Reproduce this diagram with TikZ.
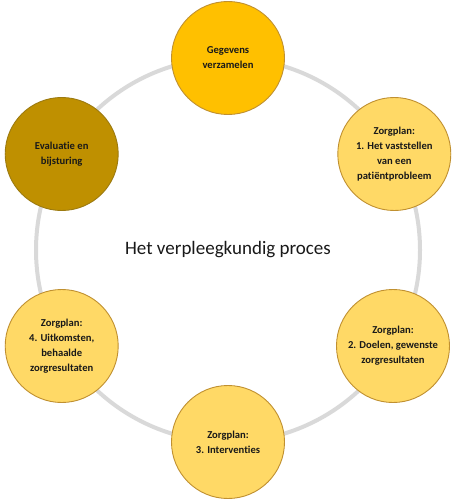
\documentclass[tikz,border=0pt]{standalone}
\usepackage{fontspec}
\setmainfont{Carlito}[Ligatures=NoCommon, Contextuals=NoAlternate]
\definecolor{gold}{HTML}{FFC000}
\definecolor{goldlight}{HTML}{FFD966}
\definecolor{golddark}{HTML}{BF9000}
\definecolor{rimc}{HTML}{C09030}
\definecolor{rimdark}{HTML}{9C7A10}
\definecolor{ringc}{HTML}{D9D9D9}
\tikzset{
  stage/.style={circle, minimum size=113pt, inner sep=0pt, align=center,
    draw=rimc, line width=0.9pt, font=\fontsize{10.6}{15}\selectfont\bfseries, text=black!90},
  stagelight/.style={stage, fill=goldlight},
  stagemain/.style={stage, fill=gold},
  stagedark/.style={stage, fill=golddark, draw=rimdark},
  ringline/.style={draw=ringc, line width=4pt},
  title/.style={font=\fontsize{19}{22}\selectfont, text=black!90}
}
\begin{document}
\begin{tikzpicture}[x=1pt,y=-1pt]
\useasboundingbox (0,0) rectangle (455,500);
\fill[white] (0,0) rectangle (455,500);
\coordinate (c) at (228,250);
\draw[ringline] (c) circle[radius=192];
\node[title] (t) at (c) {Het verpleegkundig proces};
\node[stagemain] (n1) at (228,58) {Gegevens\\verzamelen};
\node[stagelight] (n2) at (394.3,154) {Zorgplan:\\1. Het vaststellen\\van een\\patiëntprobleem};
\node[stagelight] (n3) at (393,346) {Zorgplan:\\2. Doelen, gewenste\\zorgresultaten};
\node[stagelight] (n4) at (228,442) {Zorgplan:\\3. Interventies};
\node[stagelight] (n5) at (61.7,346) {Zorgplan:\\4. Uitkomsten,\\behaalde\\zorgresultaten};
\node[stagedark] (n6) at (61.7,154) {Evaluatie en\\bijsturing};
\end{tikzpicture}
\end{document}
